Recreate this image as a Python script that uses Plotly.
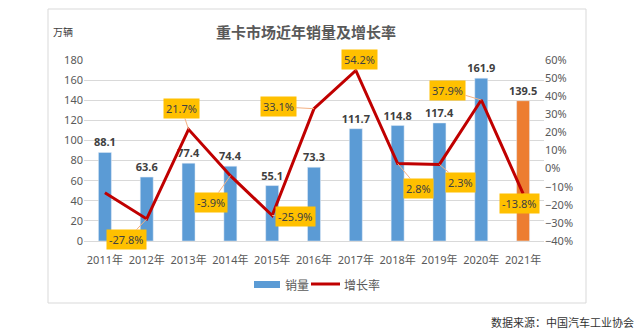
import plotly.graph_objects as go

years = ["2011年", "2012年", "2013年", "2014年", "2015年", "2016年",
         "2017年", "2018年", "2019年", "2020年", "2021年"]
sales = [88.1, 63.6, 77.4, 74.4, 55.1, 73.3, 111.7, 114.8, 117.4, 161.9, 139.5]
growth = [-13.4, -27.8, 21.7, -3.9, -25.9, 33.1, 54.2, 2.8, 2.3, 37.9, -13.8]
bar_colors = ["#5B9BD5"] * 10 + ["#ED7D31"]
# label offsets (pixels) for growth-rate callouts
label_offsets = [None, (-20, 21), (-7, -21), (-19, 27), (23, 1), (-36, -2),
                 (4, -11), (21, 25), (21, 18), (-34, -10), (-4, 10)]

W, H = 640, 335
L, R, T, B = 84, 544, 60, 241
FONT = "Noto Sans, Noto Sans CJK SC, sans-serif"
CJK = "Noto Sans CJK SC, sans-serif"


def px(x):
    return (x - L) / (R - L)


def py(y):
    return (B - y) / (B - T)


fig = go.Figure()
fig.add_trace(go.Bar(
    x=years, y=sales, marker_color=bar_colors, width=0.31,
    text=[f"{v:.1f}" for v in sales], textposition="outside",
    textfont=dict(family=FONT, size=11, color="#404040", weight="bold"),
    constraintext="none", cliponaxis=False, showlegend=False, name="销量"))
fig.add_trace(go.Scatter(
    x=years, y=growth, yaxis="y2", mode="lines",
    line=dict(color="#C00000", width=3), showlegend=False, name="增长率"))

annotations = []
for yr, g, off in zip(years, growth, label_offsets):
    if off is None:
        continue
    annotations.append(dict(
        x=yr, y=g, yref="y2", xref="x", text=f"{g:.1f}%",
        showarrow=True, arrowhead=0, arrowwidth=1, arrowcolor="#F4B183",
        ax=off[0], ay=off[1], bgcolor="#FFC000", borderpad=2,
        font=dict(family=FONT, size=11, color="#404040")))


def note(x, y, text, size, color, xanchor="center", weight="normal"):
    return dict(xref="paper", yref="paper", x=px(x), y=py(y), text=text,
                xanchor=xanchor, yanchor="middle", showarrow=False,
                font=dict(family=CJK, size=size, color=color, weight=weight))


annotations += [
    note(306, 31, "重卡市场近年销量及增长率", 15, "#595959", weight="bold"),
    note(63, 31, "万辆", 10, "#404040"),
    note(283, 284, "销量", 12, "#595959", xanchor="left"),
    note(342, 284, "增长率", 12, "#595959", xanchor="left"),
    note(636, 322, "数据来源：中国汽车工业协会", 11, "#333333", xanchor="right"),
]

shapes = [
    dict(type="rect", xref="paper", yref="paper", x0=px(48), x1=px(586), y0=py(303), y1=py(9),
         line=dict(color="#D9D9D9", width=1), fillcolor="rgba(0,0,0,0)", layer="below"),
    dict(type="rect", xref="paper", yref="paper", x0=px(254), x1=px(280), y0=py(288), y1=py(281),
         line=dict(width=0), fillcolor="#5B9BD5"),
    dict(type="line", xref="paper", yref="paper", x0=px(311), x1=px(340), y0=py(284), y1=py(284),
         line=dict(color="#C00000", width=3)),
]

fig.update_layout(
    width=W, height=H, margin=dict(l=L, r=W - R, t=T, b=H - B),
    paper_bgcolor="white", plot_bgcolor="white",
    annotations=annotations, shapes=shapes,
    xaxis=dict(tickfont=dict(family=FONT, size=11, color="#595959"), showgrid=False,
               showline=True, linecolor="#D9D9D9", ticks="", ticklabelstandoff=9,
               fixedrange=True),
    yaxis=dict(range=[0, 180], dtick=20, gridcolor="#D9D9D9", zeroline=False,
               tickfont=dict(family=FONT, size=11, color="#595959"), ticks=""),
    yaxis2=dict(range=[-40, 60], dtick=10, overlaying="y", side="right", showgrid=False,
                zeroline=False, ticksuffix="%",
                tickfont=dict(family=FONT, size=11, color="#595959")),
    bargap=0.69,
)

fig.write_html("out.html")
